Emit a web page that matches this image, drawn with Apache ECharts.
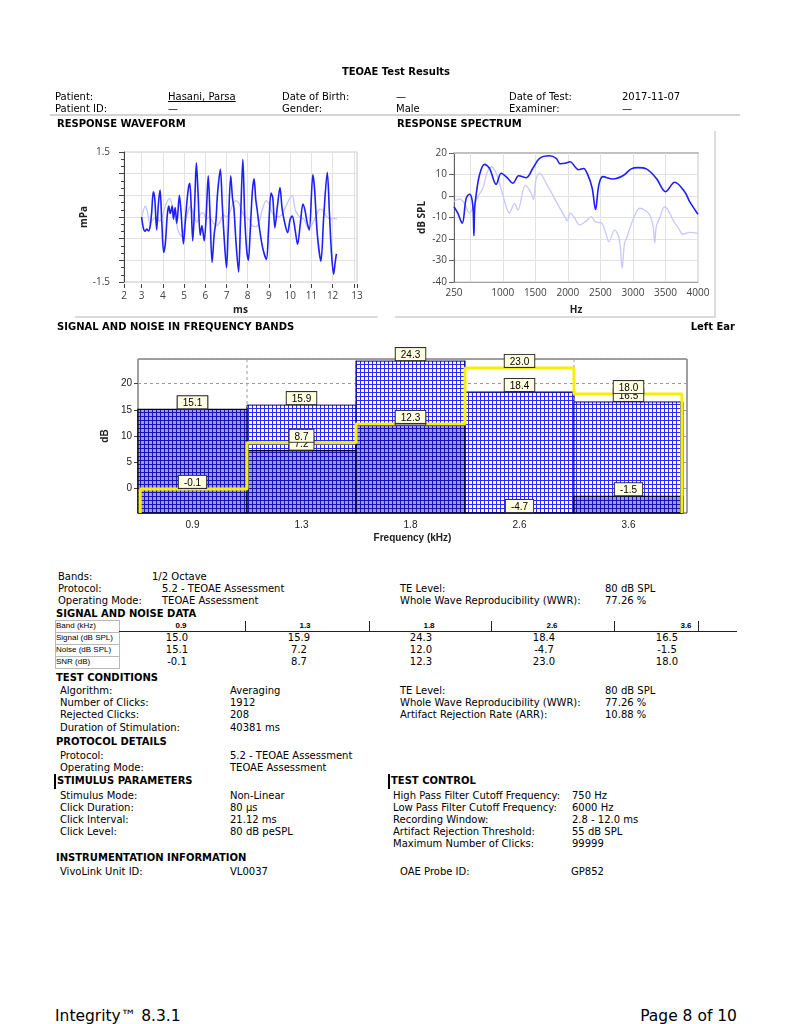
<!DOCTYPE html>
<html><head><meta charset="utf-8">
<script src="https://cdn.jsdelivr.net/npm/echarts@6/dist/echarts.min.js"></script>
<style>
html,body{margin:0;padding:0;background:#fff;}
#page{position:relative;width:792px;height:1024px;overflow:hidden;font-family:"DejaVu Sans",sans-serif;font-size:10px;color:#000;}
.t{position:absolute;white-space:nowrap;line-height:12px;height:12px;}
.b{font-weight:bold;}
.s{font-family:"Liberation Sans",Arial,sans-serif;font-size:8px;}
.ln{position:absolute;}
#chart{position:absolute;left:0;top:0;width:792px;height:560px;}
</style></head>
<body><div id="page"><div id="chart"></div></div>
<script>
// ---------- DATA ----------
const waveTimeA = [3.00,3.08,3.16,3.24,3.32,3.40,3.47,3.55,3.62,3.71,3.79,3.87,3.95,4.04,4.12,4.21,4.28,4.35,4.44,4.50,4.58,4.66,4.78,4.86,4.97,5.08,5.20,5.27,5.34,5.41,5.50,5.58,5.66,5.76,5.84,5.95,6.05,6.14,6.22,6.32,6.42,6.50,6.58,6.71,6.80,6.88,7.00,7.08,7.20,7.28,7.35,7.45,7.57,7.66,7.77,7.86,7.95,8.03,8.12,8.22,8.30,8.38,8.45,8.55,8.70,8.88,8.98,9.10,9.18,9.28,9.40,9.52,9.62,9.75,9.88,10.00,10.10,10.22,10.35,10.48,10.60,10.70,10.80,10.90,11.07,11.15,11.28,11.45,11.58,11.75,11.85,11.95,12.05,12.12,12.18];
const waveA = [0.00,-0.25,-0.33,-0.28,-0.32,-0.22,0.08,0.58,0.42,-0.30,0.30,0.62,-0.10,-0.82,-0.60,0.05,0.25,0.08,0.25,-0.05,0.22,-0.15,0.50,0.10,-0.62,0.05,0.65,0.78,0.20,-0.55,0.30,1.25,0.55,-0.42,-0.20,-0.55,0.10,0.95,0.10,-1.05,-0.40,-0.10,0.55,1.10,0.30,-0.40,-1.17,-0.30,0.95,0.45,0.20,-0.60,-1.27,-0.10,1.33,0.00,-0.75,-1.00,-0.30,0.60,0.88,0.40,0.15,-0.25,-0.70,-0.98,-0.30,0.55,0.45,-0.25,0.25,0.68,0.20,-0.15,-0.36,-0.05,0.02,-0.25,-0.63,-0.15,0.30,0.15,-0.13,-0.30,0.98,0.65,-0.40,-1.02,0.00,1.03,0.10,-0.85,-1.32,-1.05,-0.85];
const waveTimeB = [3.00,3.10,3.18,3.28,3.40,3.55,3.70,3.85,4.00,4.15,4.32,4.45,4.60,4.75,4.90,5.05,5.20,5.32,5.45,5.60,5.75,5.90,6.05,6.20,6.40,6.55,6.70,6.85,7.00,7.15,7.30,7.45,7.60,7.75,7.90,8.05,8.20,8.40,8.55,8.70,8.88,9.00,9.15,9.35,9.60,9.80,10.00,10.10,10.25,10.45,10.65,10.85,11.00,11.20,11.40,11.55,11.70,11.90,12.05,12.20];
const waveB = [0.00,0.18,0.25,0.10,-0.15,-0.05,0.00,-0.10,0.05,0.30,0.43,0.25,-0.05,-0.35,-0.45,-0.15,0.15,0.25,0.05,-0.12,0.05,0.10,-0.05,0.00,-0.15,-0.20,-0.10,0.05,0.00,0.10,0.30,0.38,0.30,0.10,0.00,-0.05,-0.20,-0.22,-0.10,0.20,0.38,0.30,0.10,0.00,0.05,0.25,0.45,0.50,0.15,0.00,-0.05,-0.25,-0.20,0.00,0.18,0.15,0.02,-0.05,-0.03,-0.05];

const specFreqA = [250,308,376,437,488,523,545,556,567,590,642,718,795,898,975,1077,1154,1246,1360,1462,1565,1718,1821,1881,1960,2035,2112,2164,2241,2307,2374,2425,2476,2538,2692,2846,2974,3077,3205,3360,3503,3641,3795,3872,4000];
const specA = [-5.0,-8.0,-12.7,-1.1,0.8,-1.1,-7.0,-18.5,-6.0,0.5,9.8,14.7,12.9,5.4,10.6,8.2,5.9,9.4,8.5,12.9,17.5,18.7,17.5,15.0,15.2,15.9,13.5,12.2,12.8,9.8,3.6,-6.3,5.1,9.0,7.9,9.4,12.6,13.2,12.6,8.2,2.0,6.4,2.0,-2.6,-8.5];
const specFreqB = [250,334,411,488,549,616,692,760,821,898,1000,1103,1180,1231,1349,1437,1470,1514,1565,1668,1821,1950,1990,2035,2100,2180,2270,2360,2420,2514,2580,2631,2718,2790,2835,2870,2902,3000,3105,3180,3257,3310,3334,3360,3411,3488,3550,3616,3700,3770,3873,4000];
const specB = [-2.6,-1.4,-3.4,-8.0,-5.0,-0.3,3.6,11.0,13.6,10.6,0.5,-8.0,-3.4,-6.5,5.1,1.3,-1.5,8.2,10.6,5.9,-2.6,-9.6,-11.5,-8.0,-10.0,-13.5,-12.0,-9.6,-12.0,-12.5,-17.0,-21.3,-15.8,-20.0,-33.6,-22.0,-19.7,-11.0,-5.7,-6.5,-8.8,-14.0,-21.9,-14.0,-10.2,-5.0,-7.0,-11.2,-15.0,-17.8,-16.9,-17.4];
const specGridFreqs = [500,1000,1500,2000,2500,3000,3500];

const bandLabels = ['0.9','1.3','1.8','2.6','3.6'];
const bandSignal = [15.0,15.9,24.3,18.4,16.5];
const bandNoise = [15.1,7.2,12.0,-4.7,-1.5];
const bandSNR = [-0.1,8.7,12.3,23.0,18.0];

// ---------- TEXT ----------
const texts = [
 [0,72,'TEOAE Test Results','b c'],
 [55,97,'Patient:'],[168,97,'<u>Hasani, Parsa</u>'],[282,97,'Date of Birth:'],[396,97,'—'],[509,97,'Date of Test:'],[622,97,'2017-11-07'],
 [55,109,'Patient ID:'],[168,109,'—'],[282,109,'Gender:'],[396,109,'Male'],[509,109,'Examiner:'],[622,109,'—'],
 [57,124,'RESPONSE WAVEFORM','b'],[397,124,'RESPONSE SPECTRUM','b'],
 [57,327,'SIGNAL AND NOISE IN FREQUENCY BANDS','b'],
 [58,577,'Bands:'],[152,577,'1/2 Octave'],
 [58,589,'Protocol:'],[162,589,'5.2 - TEOAE Assessment'],[400,589,'TE Level:'],[605,589,'80 dB SPL'],
 [58,601,'Operating Mode:'],[162,601,'TEOAE Assessment'],[400,601,'Whole Wave Reproducibility (WWR):'],[605,601,'77.26 %'],
 [56,614,'SIGNAL AND NOISE DATA','b'],
 [56,678,'TEST CONDITIONS','b'],
 [60,691,'Algorithm:'],[230,691,'Averaging'],[400,691,'TE Level:'],[605,691,'80 dB SPL'],
 [60,703,'Number of Clicks:'],[230,703,'1912'],[400,703,'Whole Wave Reproducibility (WWR):'],[605,703,'77.26 %'],
 [60,715,'Rejected Clicks:'],[230,715,'208'],[400,715,'Artifact Rejection Rate (ARR):'],[605,715,'10.88 %'],
 [60,728,'Duration of Stimulation:'],[230,728,'40381 ms'],
 [56,742,'PROTOCOL DETAILS','b'],
 [60,756,'Protocol:'],[230,756,'5.2 - TEOAE Assessment'],
 [60,768,'Operating Mode:'],[230,768,'TEOAE Assessment'],
 [57,781,'STIMULUS PARAMETERS','b'],[391,781,'TEST CONTROL','b'],
 [60,796,'Stimulus Mode:'],[230,796,'Non-Linear'],[393,796,'High Pass Filter Cutoff Frequency:'],[572,796,'750 Hz'],
 [60,808,'Click Duration:'],[230,808,'80 µs'],[393,808,'Low Pass Filter Cutoff Frequency:'],[572,808,'6000 Hz'],
 [60,820,'Click Interval:'],[230,820,'21.12 ms'],[393,820,'Recording Window:'],[572,820,'2.8 - 12.0 ms'],
 [60,832,'Click Level:'],[230,832,'80 dB peSPL'],[393,832,'Artifact Rejection Threshold:'],[572,832,'55 dB SPL'],
 [393,844,'Maximum Number of Clicks:'],[572,844,'99999'],
 [56,858,'INSTRUMENTATION INFORMATION','b'],
 [60,872,'VivoLink Unit ID:'],[230,872,'VL0037'],[400,872,'OAE Probe ID:'],[571,872,'GP852'],
 [56,626,'Band (kHz)','s'],[56,638,'Signal (dB SPL)','s'],[56,650,'Noise (dB SPL)','s'],[56,662,'SNR (dB)','s']
];
const page = document.getElementById('page');
function addText(x,y,html,cls){
  const d=document.createElement('div'); d.className='t '+(cls||'');
  d.innerHTML=html; d.style.top=(y-6)+'px';
  if((cls||'').includes('c')){d.style.left='0';d.style.width='792px';d.style.textAlign='center';}
  else if((cls||'').includes('r')){d.style.right=(792-x)+'px';}
  else d.style.left=x+'px';
  page.appendChild(d); return d;
}
texts.forEach(a=>addText(a[0],a[1],a[2],a[3]));
addText(735,327,'Left Ear','b r');
function line(x,y,w,h,c){const d=document.createElement('div');d.className='ln';d.style.cssText=`left:${x}px;top:${y}px;width:${w}px;height:${h}px;background:${c};`;page.appendChild(d);}
line(50,114,690,2,'#d4d4d4');
line(75,316,303,2,'#dcdcdc');
line(714,131,2,187,'#dcdcdc');
line(395,316,321,2,'#dcdcdc');
line(54,774,2,15,'#000');line(388,774,2,15,'#000');
// table
const colCenters=[177,299,421,544,667], headCenters=[181,305,429,552,686], dividers=[245,369,491,614,698];
for(let r=0;r<4;r++){const d=document.createElement('div');d.className='ln';d.style.cssText=`left:55px;top:${620+r*12}px;width:63px;height:11px;border:1px solid #b8b8b8;`;page.appendChild(d);}
line(119,631,618,1,'#222');
dividers.forEach(x=>line(x,621,1,11,'#222'));
bandLabels.forEach((l,i)=>{const d=addText(headCenters[i]-20,626,l,'s b');d.style.width='40px';d.style.textAlign='center';});
[bandSignal,bandNoise,bandSNR].forEach((arr,r)=>arr.forEach((v,i)=>{const d=addText(colCenters[i]-25,638+r*12,v.toFixed(1));d.style.width='50px';d.style.textAlign='center';}));
const f1=addText(55,1016,'Integrity™ 8.3.1');f1.style.fontSize='15.5px';f1.style.lineHeight='18px';f1.style.height='18px';f1.style.top='1007px';
const f2=addText(737,1016,'Page 8 of 10','r');f2.style.fontSize='15.5px';f2.style.lineHeight='18px';f2.style.height='18px';f2.style.top='1007px';

// ---------- CHART ----------
function pattern(bg, fg){
  const c=document.createElement('canvas'); c.width=4; c.height=4;
  const g=c.getContext('2d'); g.fillStyle=bg; g.fillRect(0,0,4,4);
  g.fillStyle=fg; g.fillRect(0,0,4,1); g.fillRect(0,0,1,4); return c;
}
const lightPat={image:pattern('#ffffff','#2a2aff'),repeat:'repeat'};
const darkPat={image:pattern('#a0a0b8','#1414c0'),repeat:'repeat'};
const Y_MIN=-4.7, Y_MAX=24.7, NB=bandLabels.length;
const chart=echarts.init(document.getElementById('chart'),null,{renderer:'canvas'});
const tickFont={fontFamily:'"Open Sans",sans-serif',fontSize:10,color:'#404040'};
const nameFont={fontFamily:'"Open Sans",sans-serif',fontSize:10,fontWeight:'bold',color:'#202020'};
const armFont={fontFamily:'"Liberation Sans",Arial,sans-serif',fontSize:10,color:'#202020'};
const gridLine={show:true,lineStyle:{color:'#e2e2e2',width:1}};
function barRender(fill,stroke,lw){
  return (p,api)=>{const i=api.value(0),v=Math.max(api.value(1),Y_MIN);
    const a=api.coord([i,v]),b=api.coord([i+1,Y_MIN]);
    return {type:'rect',shape:{x:a[0],y:a[1],width:b[0]-a[0],height:b[1]-a[1]},style:{fill:fill,stroke:stroke,lineWidth:lw}};};
}
function labelRender(p,api){
  const i=api.value(0),v=api.value(1);const a=api.coord([i+0.5,Math.max(v,Y_MIN)]);
  return {type:'text',x:a[0],y:a[1]-1,style:{text:v.toFixed(1),align:'center',verticalAlign:'bottom',fill:'#000',
    fontSize:10,fontFamily:'"Liberation Sans",Arial,sans-serif',backgroundColor:'#ffffe1',borderColor:'#303030',borderWidth:1,padding:[2,5,0,5]}};
}
const snrLine=[[0.02,Y_MIN]];
bandSNR.forEach((s,i)=>{snrLine.push([i===0?0.02:i,s]);snrLine.push([i===NB-1?NB-0.01:i+1,s]);});
snrLine.push([NB-0.01,Y_MIN]);
const edges=[];for(let i=1;i<NB;i++)edges.push([i]);

chart.setOption({
  animation:false,
  grid:[
    {left:124,top:152,width:233,height:130,show:true,borderColor:'#c8c8c8',borderWidth:1},
    {left:454,top:153,width:244,height:129,show:true,borderColor:'#c8c8c8',borderWidth:1},
    {left:138,top:359,width:549,height:154,show:true,borderColor:'#404040',borderWidth:1}
  ],
  xAxis:[
    {gridIndex:0,type:'value',min:2.17,max:13.15,splitNumber:11,offset:6,
     axisLine:{show:false,onZero:false},axisTick:{show:true,inside:true,length:4,lineStyle:{color:'#404040'}},
     axisLabel:Object.assign({margin:3,showMinLabel:true,showMaxLabel:true,formatter:v=>{
        if(Math.abs(v-2.17)<1e-6)return '2'; if(Math.abs(v-13.15)<1e-6)return '13';
        if(Math.abs(v-13)<1e-6)return ''; return Math.abs(v-Math.round(v))<1e-6?String(Math.round(v)):'';}},tickFont),
     splitLine:gridLine,name:'ms',nameLocation:'middle',nameGap:17,nameTextStyle:nameFont},
    {gridIndex:1,type:'value',min:250,max:4000,interval:250,
     axisLine:{show:true,onZero:false,lineStyle:{color:'#a0a0a0'}},axisTick:{show:false},
     axisLabel:Object.assign({margin:6,formatter:v=>(v===250||(v>=1000&&v%500===0))?String(v):''},tickFont),
     splitLine:{show:false},name:'Hz',nameLocation:'middle',nameGap:23,nameTextStyle:nameFont},
    {gridIndex:2,type:'value',min:0,max:549/109,interval:0.5,
     axisLine:{show:false,onZero:false},axisTick:{show:false},splitLine:{show:false},
     axisLabel:Object.assign({margin:7,showMaxLabel:false,formatter:v=>Math.abs(v%1-0.5)<1e-6?bandLabels[Math.floor(v)]:''},armFont),
     name:'Frequency (kHz)',nameLocation:'middle',nameGap:20,nameTextStyle:Object.assign({},armFont,{fontWeight:'bold'})},
    {gridIndex:1,type:'value',position:'top',min:250,max:4000,show:true,axisLine:{show:true,onZero:false,lineStyle:{color:'#c0c0c0',width:2}},
     axisTick:{show:false},axisLabel:{show:false},splitLine:{show:false}}
  ],
  yAxis:[
    {gridIndex:0,type:'value',min:-1.5,max:1.5,interval:0.5,
     axisLine:{show:true,onZero:false,lineStyle:{color:'#404040'}},axisTick:{show:true,length:5,lineStyle:{color:'#404040'}},
     minorTick:{show:true,splitNumber:3,length:3,lineStyle:{color:'#404040'}},
     axisLabel:Object.assign({margin:14,formatter:v=>Math.abs(Math.abs(v)-1.5)<1e-6?v.toFixed(1):''},tickFont),
     splitLine:gridLine,name:'mPa',nameLocation:'middle',nameGap:30,nameTextStyle:nameFont},
    {gridIndex:1,type:'value',min:-40,max:20,interval:10,
     axisLine:{show:true,onZero:false,lineStyle:{color:'#606060'}},axisTick:{show:true,length:5,lineStyle:{color:'#606060'}},
     axisLabel:Object.assign({margin:7},tickFont),
     splitLine:gridLine,name:'dB SPL',nameLocation:'middle',nameGap:27,nameTextStyle:nameFont},
    {gridIndex:2,type:'value',min:Y_MIN,max:Y_MAX,splitNumber:6,
     axisLine:{show:false,onZero:false},axisTick:{show:true,length:4,lineStyle:{color:'#404040'}},
     axisLabel:Object.assign({margin:6,showMinLabel:false,showMaxLabel:false},armFont),
     splitLine:{show:true,lineStyle:{color:'#9a9a9a',type:[3,3]}},
     name:'dB',nameLocation:'middle',nameGap:20,nameTextStyle:Object.assign({},armFont,{fontWeight:'bold'})}
  ],
  series:[
    {type:'line',xAxisIndex:0,yAxisIndex:0,data:waveTimeB.map((t,i)=>[t,waveB[i]]),showSymbol:false,smooth:0.3,
     lineStyle:{color:'#c4c4ff',width:1.3}},
    {type:'line',xAxisIndex:0,yAxisIndex:0,data:waveTimeA.map((t,i)=>[t,waveA[i]]),showSymbol:false,smooth:0.3,
     lineStyle:{color:'#1e1eff',width:1.6}},
    {type:'line',xAxisIndex:1,yAxisIndex:1,data:specFreqB.map((f,i)=>[f,specB[i]]),showSymbol:false,smooth:0.35,
     lineStyle:{color:'#c8c8ff',width:1.3},
     markLine:{silent:true,z:1,symbol:'none',label:{show:false},lineStyle:{color:'#e2e2e2',type:'solid',width:1},
       data:specGridFreqs.map(f=>({xAxis:f}))}},
    {type:'line',xAxisIndex:1,yAxisIndex:1,data:specFreqA.map((f,i)=>[f,specA[i]]),showSymbol:false,smooth:0.35,
     lineStyle:{color:'#1e1eff',width:1.6}},
    {type:'custom',xAxisIndex:2,yAxisIndex:2,data:edges,encode:{x:0},
     renderItem:(p,api)=>{const a=api.coord([api.value(0),Y_MAX]),b=api.coord([api.value(0),Y_MIN]);
       return {type:'line',shape:{x1:a[0],y1:a[1],x2:b[0],y2:b[1]},style:{stroke:'#9a9a9a',lineWidth:1,lineDash:[3,3]}};}},
    {type:'custom',xAxisIndex:2,yAxisIndex:2,data:bandSignal.map((v,i)=>[i,v]),encode:{x:0,y:1},renderItem:barRender(lightPat,'#00006a',1)},
    {type:'custom',xAxisIndex:2,yAxisIndex:2,data:bandNoise.map((v,i)=>[i,v]),encode:{x:0,y:1},renderItem:barRender(darkPat,'#000000',1.2)},
    {type:'line',xAxisIndex:2,yAxisIndex:2,data:snrLine,showSymbol:false,lineStyle:{color:'#f6f000',width:3},z:3},
    {type:'custom',xAxisIndex:2,yAxisIndex:2,data:bandSignal.map((v,i)=>[i,v]),encode:{x:0,y:1},renderItem:labelRender,z:4},
    {type:'custom',xAxisIndex:2,yAxisIndex:2,data:bandNoise.map((v,i)=>[i,v]),encode:{x:0,y:1},renderItem:labelRender,z:4},
    {type:'custom',xAxisIndex:2,yAxisIndex:2,data:bandSNR.map((v,i)=>[i,v]),encode:{x:0,y:1},renderItem:labelRender,z:4}
  ]
});
</script></body></html>
